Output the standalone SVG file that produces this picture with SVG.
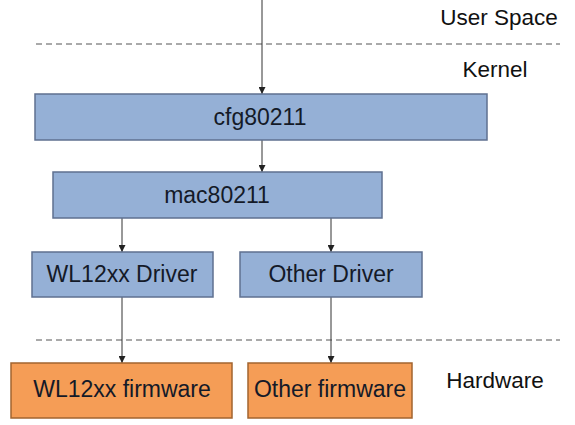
<svg xmlns="http://www.w3.org/2000/svg" width="575" height="425" viewBox="0 0 575 425">
<style>
  .blue { fill: #95b0d6; stroke: #5f7090; stroke-width: 1.5; }
  .orange { fill: #f59d56; stroke: #a2642f; stroke-width: 1.5; }
  .lbl { font-family: "Liberation Sans", Arial, sans-serif; font-size: 23px; fill: #141a28; text-anchor: middle; }
  .side { font-family: "Liberation Sans", Arial, sans-serif; font-size: 22.5px; fill: #111; text-anchor: middle; }
  .conn { stroke: #333; stroke-width: 1; fill: none; marker-end: url(#ah); }
  .dash { stroke: #555; stroke-width: 1; stroke-dasharray: 6 4; fill: none; }
</style>
<defs>
  <marker id="ah" viewBox="0 0 8 8" refX="8" refY="4" markerWidth="7" markerHeight="7" markerUnits="userSpaceOnUse" orient="auto">
    <path d="M0,0 L8,4 L0,8 Z" fill="#222"/>
  </marker>
</defs>
<rect width="575" height="425" fill="#ffffff"/>
<g id="layers">
  <line class="dash" x1="36" y1="44" x2="560" y2="44"/>
  <line class="dash" x1="36" y1="340" x2="560" y2="340"/>
  <text class="side" x="499" y="25">User Space</text>
  <text class="side" x="495" y="77">Kernel</text>
  <text class="side" x="495" y="388">Hardware</text>
</g>
<g id="connectors">
  <line class="conn" x1="262" y1="0" x2="262" y2="94"/>
  <line class="conn" x1="262" y1="140" x2="262" y2="172"/>
  <line class="conn" x1="122" y1="218" x2="122" y2="252"/>
  <line class="conn" x1="331" y1="218" x2="331" y2="252"/>
  <line class="conn" x1="122" y1="297" x2="122" y2="363"/>
  <line class="conn" x1="331" y1="297" x2="331" y2="363"/>
</g>
<g id="cfg80211">
  <rect class="blue" x="35" y="94" width="452" height="46"/>
  <text class="lbl" x="260" y="125">cfg80211</text>
</g>
<g id="mac80211">
  <rect class="blue" x="53" y="172" width="329" height="46"/>
  <text class="lbl" x="217" y="203">mac80211</text>
</g>
<g id="wl12xx-driver">
  <rect class="blue" x="32" y="252" width="181" height="45"/>
  <text class="lbl" x="122" y="282">WL12xx Driver</text>
</g>
<g id="other-driver">
  <rect class="blue" x="240" y="252" width="182" height="45"/>
  <text class="lbl" x="331" y="282">Other Driver</text>
</g>
<g id="wl12xx-firmware">
  <rect class="orange" x="11" y="363" width="221" height="55"/>
  <text class="lbl" x="122" y="397">WL12xx firmware</text>
</g>
<g id="other-firmware">
  <rect class="orange" x="248" y="363" width="164" height="55"/>
  <text class="lbl" x="330" y="397">Other firmware</text>
</g>
</svg>
